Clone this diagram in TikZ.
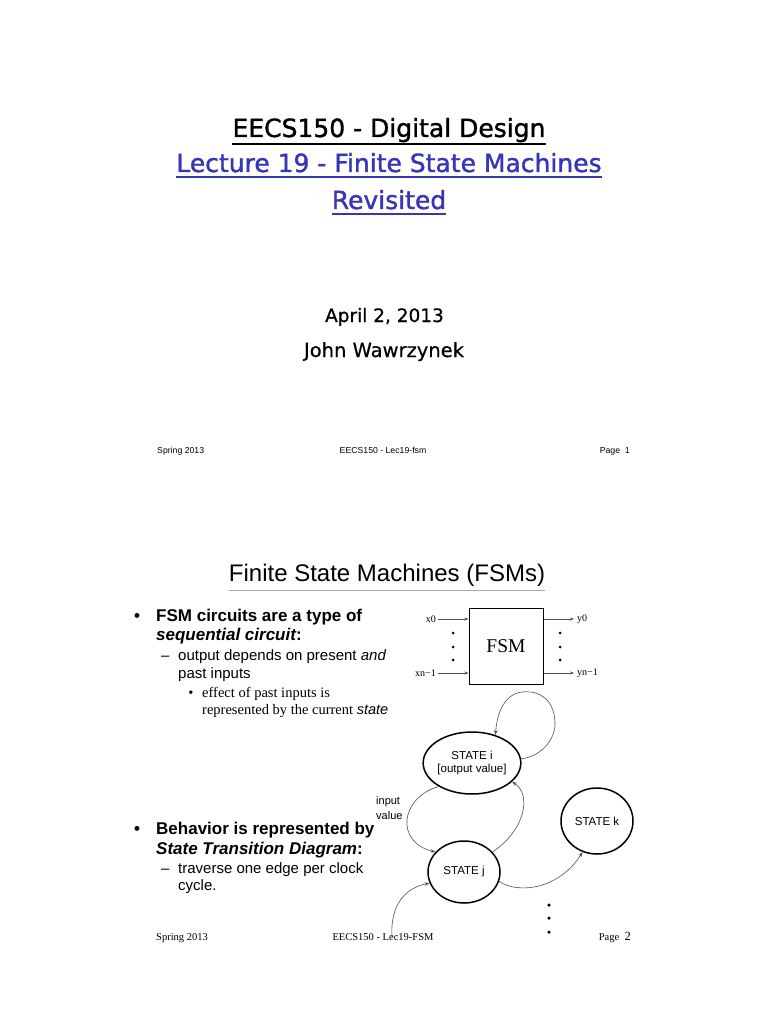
\documentclass[tikz,border=0pt]{standalone}
\usepackage{fontspec}
\setmainfont{Liberation Serif}
\newfontfamily\arial{Liberation Sans}
\newfontfamily\euro[FakeBold=1.3]{DejaVu Sans}
\newfontfamily\comic[FakeBold=0.6]{DejaVu Sans}
\usetikzlibrary{shapes.geometric,arrows.meta}
\definecolor{lnkblue}{HTML}{3535B8}
\definecolor{conngray}{HTML}{505050}
\begin{document}
\begin{tikzpicture}[x=1pt,y=-1pt,
  txt/.style={inner sep=0pt},
  state/.style={draw,ellipse,line width=1.5pt,inner sep=0pt,align=center,font=\arial\fontsize{11.5}{13.5}\selectfont},
  conn/.style={draw=conngray,line width=0.6pt,-{Stealth[length=5pt,width=3.5pt]}},
  io/.style={draw=conngray,line width=0.6pt,-{Stealth[length=4pt,width=3pt]}},
  fdot/.style={circle,fill,inner sep=0pt,minimum size=3pt},
  bl/.style={txt,anchor=base west,font=\arial\bfseries\fontsize{17}{20}\selectfont},
  sl/.style={txt,anchor=base west,font=\arial\fontsize{15}{18}\selectfont},
  ssl/.style={txt,anchor=base west,font=\fontsize{14.5}{17}\selectfont},
  foot/.style={txt,font=\arial\fontsize{8.7}{10}\selectfont},
  foottwo/.style={txt,font=\fontsize{10.5}{12}\selectfont},
  small/.style={txt,font=\fontsize{10}{11}\selectfont}]
\useasboundingbox[fill=white] (0,0) rectangle (768,1024);

% ---------- slide 1 ----------
\node[txt,anchor=base,font=\euro\fontsize{25}{30}\selectfont] (t1) at (389,137) {EECS150 - Digital Design};
\draw[line width=1.5pt] ([yshift=-7pt]t1.base west) -- ([yshift=-7pt]t1.base east);
\node[txt,anchor=base,text=lnkblue,font=\euro\fontsize{25}{30}\selectfont] (t2) at (389,172) {Lecture 19 - Finite State Machines};
\draw[lnkblue,line width=1.5pt] ([yshift=-5pt]t2.base west) -- ([yshift=-5pt]t2.base east);
\node[txt,anchor=base,text=lnkblue,font=\euro\fontsize{25}{30}\selectfont] (t3) at (389,209) {Revisited};
\draw[lnkblue,line width=1.5pt] ([yshift=-5pt]t3.base west) -- ([yshift=-5pt]t3.base east);

\node[txt,anchor=base,font=\comic\fontsize{18.5}{22}\selectfont] (date) at (384.5,322) {April 2, 2013};
\node[txt,anchor=base,font=\comic\fontsize{19.5}{22}\selectfont] (auth) at (384,357) {John Wawrzynek};

\node[foot,anchor=base west] (f1a) at (157,453) {Spring 2013};
\node[foot,anchor=base] (f1b) at (383,453) {EECS150 - Lec19-fsm};
\node[foot,anchor=base east] (f1c) at (630,453) {Page\ \ 1};

% ---------- slide 2 ----------
\node[txt,anchor=base,font=\arial\fontsize{24}{28}\selectfont] (t4) at (387,581) {Finite State Machines (FSMs)};
\draw[gray!70,line width=0.6pt] ([yshift=-9pt]t4.base west) -- ([yshift=-9pt]t4.base east);

\node[bl,anchor=base] (b1) at (137,621) {•};
\node[bl] (l1) at (156,621) {FSM circuits are a type of};
\node[bl] (l2) at (156,640) {\itshape sequential circuit\upshape:};
\node[sl] (d1) at (161,660) {–};
\node[sl] (l3) at (178,660) {output depends on present \textit{and}};
\node[sl] (l4) at (178,678) {past inputs};
\node[ssl,anchor=base] (b2) at (191,697) {•};
\node[ssl] (l5) at (202,697) {effect of past inputs is};
\node[ssl] (l6) at (202,714) {represented by the current {\arial\itshape state}};

\node[bl,anchor=base] (b3) at (137,834) {•};
\node[bl] (l7) at (156,834) {Behavior is represented by};
\node[bl] (l8) at (156,854) {\itshape State Transition Diagram\upshape:};
\node[sl] (d2) at (161,873) {–};
\node[sl] (l9) at (178,873) {traverse one edge per clock};
\node[sl] (l10) at (178,890) {cycle.};

% FSM block
\node[draw,line width=1pt,minimum width=74pt,minimum height=76pt,inner sep=0pt,font=\fontsize{19.5}{20}\selectfont] (fsm) at (506,646) {FSM};
\node[small,anchor=east] (x0) at (436,619) {x0};
\node[small,anchor=east] (xn) at (436,673) {xn−1};
\node[small,anchor=west] (y0) at (577,619) {y0};
\node[small,anchor=west] (yn) at (577,673) {yn−1};
\draw[io] ([xshift=2pt]x0.east) -- (x0.east -| fsm.west);
\draw[io] ([xshift=2pt]xn.east) -- (xn.east -| fsm.west);
\draw[io] (y0.west -| fsm.east) -- ([xshift=-3pt]y0.west);
\draw[io] (yn.west -| fsm.east) -- ([xshift=-3pt]yn.west);
\foreach \yy [count=\k] in {633,647,660}{
  \node[fdot] (dl\k) at (453,\yy) {};
  \node[fdot] (dr\k) at (560,\yy) {};
}

% state diagram
\node[state,minimum width=92pt,minimum height=62pt] (si) at (472,763) {STATE i\\{[}output value{]}};
\node[state,minimum width=72pt,minimum height=62pt] (sj) at (464,872) {STATE j};
\node[state,minimum width=72pt,minimum height=66pt] (sk) at (597,821) {STATE k};

\node[txt,anchor=base west,font=\arial\fontsize{11}{13}\selectfont] (iv1) at (376,804) {input};
\node[txt,anchor=base west,font=\arial\fontsize{11}{13}\selectfont] (iv2) at (376,819) {value};

\coordinate (inc) at (392,937);

\draw[conn] (si.5) .. controls (540,757) and (556,740) .. (555,722)
   .. controls (554,700) and (540,690) .. (522,692)
   .. controls (505,694) and (497,712) .. (si.50);
\draw[conn] (si.215) .. controls (400,798) and (395,842) .. (sj.145);
\draw[conn] (sj.35) .. controls (525,830) and (532,795) .. (si.-25);
\draw[conn] (sj.-15) .. controls (520,895) and (560,888) .. (sk.245);
\draw[conn] (inc) .. controls (390,905) and (405,888) .. (sj.198);

\foreach \yy [count=\k] in {905,918,932}{
  \node[fdot,minimum size=3.5pt] (db\k) at (549,\yy) {};
}

\node[foottwo,anchor=base west] (f2a) at (156,940) {Spring 2013};
\node[foottwo,anchor=base] (f2b) at (383,940) {EECS150 - Lec19-FSM};
\node[foottwo,anchor=base east] (f2c) at (631,940) {Page\ \ {\fontsize{12.5}{13}\selectfont 2}};
\end{tikzpicture}
\end{document}
